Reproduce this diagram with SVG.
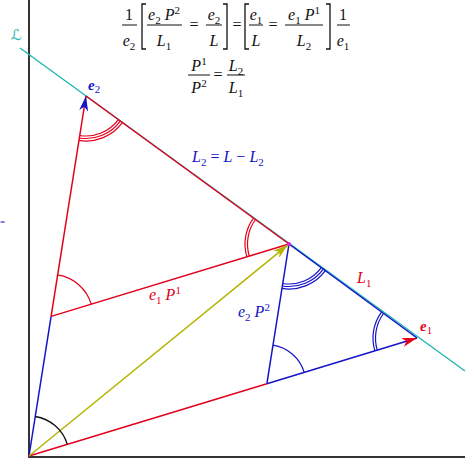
<svg xmlns="http://www.w3.org/2000/svg" width="474" height="467" viewBox="0 0 474 467">
<style>
.m{font-family:"Liberation Serif",serif;font-size:16px;fill:#111}
.i{font-style:italic}
.s{font-size:11px;font-style:normal}
.bar{stroke:#111;stroke-width:1}
.brk{fill:none;stroke:#111;stroke-width:1.3}
.red{stroke:#e3001b;fill:none;stroke-width:1.5}
.blue{stroke:#1414c8;fill:none;stroke-width:1.5}
.arc1{stroke-width:1.2}
.vec{font-family:"Liberation Serif",serif;font-size:15px;font-weight:bold;font-style:italic}
</style>
<defs>
<marker id="ab" viewBox="-15 -6 16 12" refX="0" refY="0" markerWidth="16" markerHeight="12" markerUnits="userSpaceOnUse" orient="auto"><path d="M0,0 L-15,-4.5 L-11,0 L-15,4.5 Z" fill="#1414c8"/></marker>
<marker id="ar" viewBox="-15 -6 16 12" refX="0" refY="0" markerWidth="16" markerHeight="12" markerUnits="userSpaceOnUse" orient="auto"><path d="M0,0 L-15,-4.5 L-11,0 L-15,4.5 Z" fill="#e3001b"/></marker>
<marker id="ay" viewBox="-15 -6 16 12" refX="0" refY="0" markerWidth="16" markerHeight="12" markerUnits="userSpaceOnUse" orient="auto"><path d="M0,0 L-15,-4.5 L-11,0 L-15,4.5 Z" fill="#b4b400"/></marker>
</defs>
<rect width="474" height="467" fill="#fff"/>

<g id="axes" stroke="#333" stroke-width="2" fill="none">
<line x1="29" y1="0" x2="29" y2="457"/>
<line x1="28" y1="457" x2="465" y2="457"/>
</g>

<g id="connectors">
<line id="lineL" x1="20" y1="48" x2="465" y2="371" stroke="#1cb4b4" stroke-width="1.3"/>
<line x1="86" y1="96" x2="289" y2="244" class="red"/>
<line x1="289" y1="244" x2="417" y2="338" class="blue"/>
<line x1="51.1" y1="316.4" x2="289" y2="244" class="red"/>
<line x1="266.9" y1="383.7" x2="289" y2="244" class="blue"/>
<line x1="29" y1="456" x2="51.1" y2="316.4" class="blue"/>
<line x1="51.1" y1="316.4" x2="86" y2="96" class="red" marker-end="url(#ab)"/>
<line x1="29" y1="456" x2="266.9" y2="383.7" class="red"/>
<line x1="266.9" y1="383.7" x2="417" y2="338" class="blue" marker-end="url(#ar)"/>
<line x1="29" y1="456" x2="288" y2="244.8" stroke="#b4b400" stroke-width="1.5" marker-end="url(#ay)"/>
<circle cx="289" cy="244" r="2" fill="#e020e0"/>
</g>

<g id="angles">
<path d="M35.3,416.5 A40,40 0 0 1 67.3,444.4" fill="none" stroke="#111" stroke-width="1.3"/>
<path d="M57.7,274.9 A42,42 0 0 1 91.3,304.2" class="red arc1"/>
<path d="M273,345.2 A39,39 0 0 1 304.2,372.4" class="blue arc1"/>
<g class="red arc1">
<path d="M79.74,135.51 A40,40 0 0 0 118.29,119.61"/>
<path d="M79.35,137.98 A42.5,42.5 0 0 0 120.31,121.08"/>
<path d="M78.96,140.45 A45,45 0 0 0 122.33,122.56"/>
<path d="M249.29,256.08 A41.5,41.5 0 0 1 255.5,219.51"/>
<path d="M246.9,256.8 A44,44 0 0 1 253.48,218.03"/>
</g>
<g class="blue arc1">
<path d="M282.74,283.51 A40,40 0 0 0 321.29,267.61"/>
<path d="M282.35,285.98 A42.5,42.5 0 0 0 323.31,269.08"/>
<path d="M281.96,288.45 A45,45 0 0 0 325.33,270.56"/>
<path d="M377.29,350.08 A41.5,41.5 0 0 1 383.5,313.51"/>
<path d="M374.9,350.8 A44,44 0 0 1 381.48,312.03"/>
</g>
</g>

<g id="labels">
<text x="11" y="40" font-family="DejaVu Serif,DejaVu Sans,serif" font-size="15" font-style="italic" fill="#1cb4b4">ℒ</text>
<text x="88" y="90" class="vec" fill="#1414c8">e<tspan class="s" font-weight="normal" dy="3">2</tspan></text>
<text x="420" y="331" class="vec" fill="#e3001b">e<tspan class="s" font-weight="normal" dy="3">1</tspan></text>
<text x="192" y="162" class="m" style="fill:#1414c8"><tspan class="i">L</tspan><tspan class="s" dy="4">2</tspan><tspan dy="-4"> = </tspan><tspan class="i">L</tspan><tspan> − </tspan><tspan class="i">L</tspan><tspan class="s" dy="4">2</tspan></text>
<text x="357" y="283" class="m" style="fill:#e3001b"><tspan class="i">L</tspan><tspan class="s" dy="4">1</tspan></text>
<text x="149" y="300" class="m" style="fill:#e3001b"><tspan class="i">e</tspan><tspan class="s" dy="4">1</tspan><tspan dy="-4" class="i"> P</tspan><tspan class="s" dy="-6">1</tspan></text>
<text x="238" y="317" class="m" style="fill:#1414c8"><tspan class="i">e</tspan><tspan class="s" dy="4">2</tspan><tspan dy="-4" class="i"> P</tspan><tspan class="s" dy="-6">2</tspan></text>
<text x="0" y="225" font-family="Liberation Serif,serif" font-size="9" fill="#1414c8">=</text>
</g>

<g id="formula" text-anchor="middle">
<text x="129" y="20" class="m">1</text>
<line x1="122" y1="25" x2="137" y2="25" class="bar"/>
<text x="129" y="46" class="m"><tspan class="i">e</tspan><tspan class="s" dy="4">2</tspan></text>
<path d="M146,4 H142 V49 H146" class="brk"/>
<text x="164" y="20" class="m"><tspan class="i">e</tspan><tspan class="s" dy="4">2</tspan><tspan dy="-4" class="i"> P</tspan><tspan class="s" dy="-6">2</tspan></text>
<line x1="147" y1="25" x2="182" y2="25" class="bar"/>
<text x="164" y="46" class="m"><tspan class="i">L</tspan><tspan class="s" dy="4">1</tspan></text>
<text x="194" y="30" class="m">=</text>
<text x="214" y="20" class="m"><tspan class="i">e</tspan><tspan class="s" dy="4">2</tspan></text>
<line x1="206" y1="25" x2="222" y2="25" class="bar"/>
<text x="214" y="46" class="m i">L</text>
<path d="M223,4 H227 V49 H223" class="brk"/>
<text x="237" y="30" class="m">=</text>
<path d="M249,4 H245 V49 H249" class="brk"/>
<text x="256" y="20" class="m"><tspan class="i">e</tspan><tspan class="s" dy="4">1</tspan></text>
<line x1="249" y1="25" x2="263" y2="25" class="bar"/>
<text x="256" y="46" class="m i">L</text>
<text x="273" y="30" class="m">=</text>
<text x="304" y="20" class="m"><tspan class="i">e</tspan><tspan class="s" dy="4">1</tspan><tspan dy="-4" class="i"> P</tspan><tspan class="s" dy="-6">1</tspan></text>
<line x1="285" y1="25" x2="323" y2="25" class="bar"/>
<text x="304" y="46" class="m"><tspan class="i">L</tspan><tspan class="s" dy="4">2</tspan></text>
<path d="M326,4 H330 V49 H326" class="brk"/>
<text x="343" y="20" class="m">1</text>
<line x1="337" y1="25" x2="350" y2="25" class="bar"/>
<text x="343" y="46" class="m"><tspan class="i">e</tspan><tspan class="s" dy="4">1</tspan></text>

<text x="199" y="71" class="m"><tspan class="i">P</tspan><tspan class="s" dy="-6">1</tspan></text>
<line x1="188" y1="75" x2="210" y2="75" class="bar"/>
<text x="199" y="93" class="m"><tspan class="i">P</tspan><tspan class="s" dy="-6">2</tspan></text>
<text x="218" y="80" class="m">=</text>
<text x="236" y="71" class="m"><tspan class="i">L</tspan><tspan class="s" dy="4">2</tspan></text>
<line x1="227" y1="75" x2="245" y2="75" class="bar"/>
<text x="236" y="93" class="m"><tspan class="i">L</tspan><tspan class="s" dy="4">1</tspan></text>
</g>
</svg>
